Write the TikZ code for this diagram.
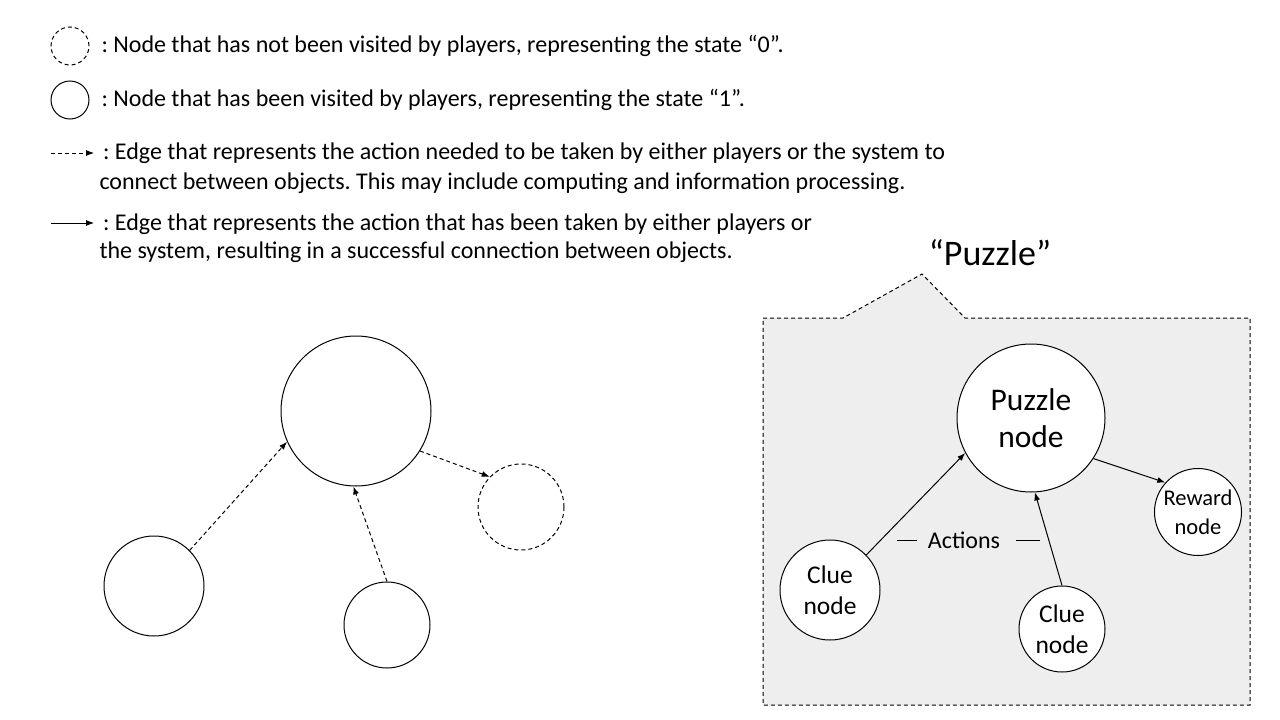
\documentclass[tikz,border=0pt]{standalone}
\usepackage{fontspec}
\setmainfont{Carlito}
\usetikzlibrary{arrows.meta,positioning}
\frenchspacing

\begin{document}
\begin{tikzpicture}[
  x=1pt, y=-1pt,
  line width=1pt,
  dsh/.style={dash pattern=on 4pt off 3pt},
  state/.style={draw, circle, fill=white, inner sep=0pt, align=center},
  legendtxt/.style={anchor=west, align=left, inner sep=0pt, font=\fontsize{24}{29.5}\selectfont},
  arrow/.style={-{Latex[length=8pt,width=6pt]}},
  lbl/.style={align=center, font=\fontsize{25.5}{31}\selectfont}
]
\useasboundingbox (0,0) rectangle (1280,720);

% legend
\node[state, dsh, minimum size=38pt] (lzero) at (70,46) {};
\node[state, minimum size=38pt] (lone) at (70,100) {};
\node[legendtxt] (tzero) at (101,46) {: Node that has not been visited by players, representing the state “0”.};
\node[legendtxt] (tone) at (101,100) {: Node that has been visited by players, representing the state “1”.};
\coordinate (ads) at (51,153);
\coordinate (ade) at (94,153);
\coordinate (afs) at (51,223);
\coordinate (afe) at (94,223);
\draw[arrow, dsh, line width=0.8pt] (ads) -- (ade);
\draw[arrow, line width=0.8pt] (afs) -- (afe);
\node[legendtxt] (tneed) at (99,168) {\hspace*{0.15em}: Edge that represents the action needed to be taken by either players or the system to\\
connect between objects. This may include computing and information processing.};
\node[legendtxt, font=\fontsize{24}{28}\selectfont] (tdone) at (99,238) {\hspace*{0.15em}: Edge that represents the action that has been taken by either players or\\
the system, resulting in a successful connection between objects.};

% left example
\node[state, minimum size=150pt] (hub) at (356,411) {};
\node[state, minimum size=100pt] (ca) at (154,586) {};
\node[state, minimum size=86pt] (cb) at (387,625) {};
\node[state, dsh, minimum size=86pt] (rw) at (521,507) {};
\draw[arrow, dsh] (ca.45) -- (hub.204);
\draw[arrow, dsh] (cb.north) -- (hub.268);
\draw[arrow, dsh] (hub.328) -- (rw.136);

% puzzle area
\draw[dsh, fill=gray!13] (763,318) -- (843,318) -- (922,274) -- (965,318)
  -- (1250,318) -- (1250,705) -- (763,705) -- cycle;
\node[font=\fontsize{36}{40}\selectfont] (title) at (990,253) {“Puzzle”};

\node[state, minimum size=148pt, font=\fontsize{31.5}{37}\selectfont] (pz) at (1031,418) {Puzzle\\node};
\node[state, minimum size=87pt, lbl, font=\fontsize{22.5}{29}\selectfont] (rn) at (1198,512) {Reward\\node};
\node[state, minimum size=100pt, lbl] (cl) at (830,590) {Clue\\node};
\node[state, minimum size=86pt, lbl] (cr) at (1062,629) {Clue\\node};
\draw[arrow] (cl.44) -- (pz.208);
\draw[arrow] (cr.north) -- (pz.273);
\draw[arrow] (pz.327) -- (rn.138);

\node[lbl, font=\fontsize{24}{28}\selectfont] (act) at (964,540) {Actions};
\coordinate (al1) at (897,540);
\coordinate (al2) at (917,540);
\coordinate (ar1) at (1016,540);
\coordinate (ar2) at (1040,540);
\draw[line width=0.8pt] (al1) -- (al2);
\draw[line width=0.8pt] (ar1) -- (ar2);
\end{tikzpicture}
\end{document}
